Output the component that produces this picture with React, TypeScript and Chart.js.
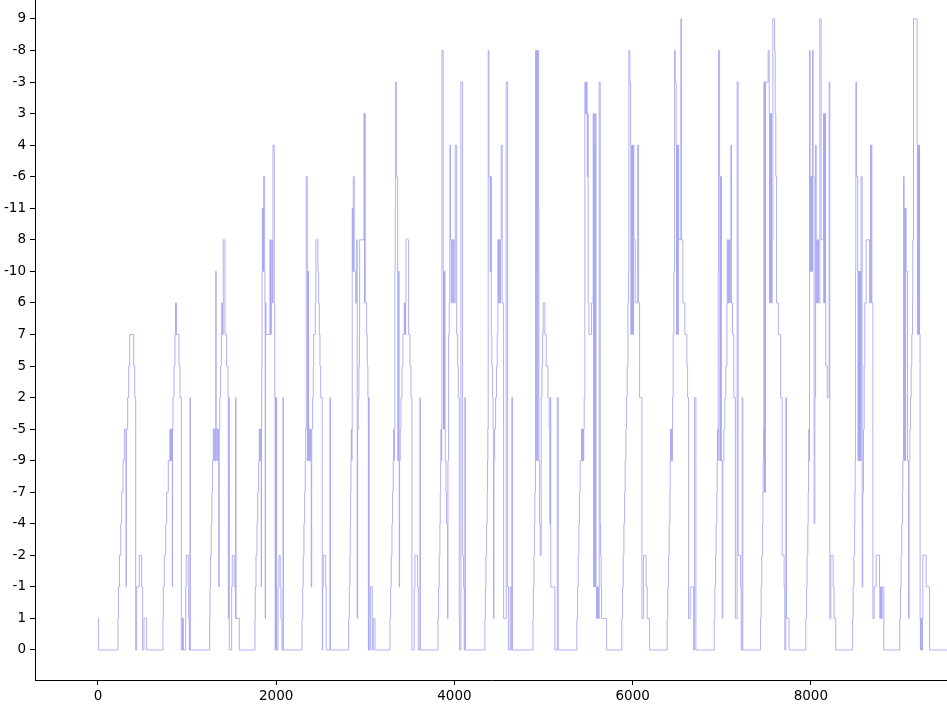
import React, { useEffect, useRef } from 'react';
import { Chart, registerables } from 'chart.js';

Chart.register(...registerables);

// Category order of the y axis (bottom to top, order of first appearance)
const yCategories = ['0', '1', '-1', '-2', '-4', '-7', '-9', '-5', '2', '5', '7', '6', '-10', '8', '-11', '-6', '4', '3', '-3', '-8', '9'];
const xTicks = [0, 2000, 4000, 6000, 8000];

// Step change points: [x where the new value starts, value]
const burst00: [number, number][] = [[0, 1], [6, 0]];
const burst01: [number, number][] = [[224, 1], [230, -1], [241, -2], [255, -4], [266, -7], [281, -9], [295, -5], [314, -1], [319, -5], [333, 2], [344, 5], [356, 7], [401, 5], [412, 2], [423, 0], [434, -1], [463, -2], [490, -1], [501, 0], [516, 1], [546, 0]];
const burst02: [number, number][] = [[729, 1], [733, -1], [744, -2], [760, -4], [771, -7], [789, -9], [808, -5], [811, -9], [814, -5], [817, -9], [820, -5], [823, -9], [827, -5], [834, -1], [837, -5], [841, 2], [853, 5], [864, 7], [872, 6], [874, 7], [876, 6], [879, 7], [909, 5], [920, 2], [935, 0], [946, 1], [950, 0], [953, 1], [957, 0], [984, -1], [990, -2], [1013, -1], [1018, 1], [1024, 0], [1032, 2], [1036, 0]];
const burst03: [number, number][] = [[1253, 1], [1257, -1], [1264, -2], [1271, -4], [1278, -7], [1286, -9], [1294, -5], [1300, -9], [1306, -5], [1312, -9], [1318, -5], [1322, -10], [1326, -5], [1332, -9], [1338, -5], [1344, -9], [1350, -5], [1356, -1], [1360, -5], [1366, 2], [1376, 5], [1384, 7], [1390, 6], [1393, 7], [1396, 6], [1400, 7], [1403, 6], [1406, 8], [1425, 7], [1444, 5], [1459, 2], [1463, 1], [1468, 2], [1473, 0], [1500, -1], [1507, -2], [1529, -1], [1542, 1], [1545, 2], [1549, 1], [1586, 0]];
const burst04: [number, number][] = [[1762, 1], [1765, -1], [1773, -2], [1784, -4], [1792, -7], [1803, -9], [1810, -5], [1815, -9], [1820, -5], [1825, -9], [1830, -5], [1832, -1], [1835, 2], [1838, 5], [1840, 7], [1842, -10], [1845, -11], [1848, -10], [1851, -11], [1854, -10], [1857, -11], [1859, -6], [1870, -10], [1873, 6], [1876, 1], [1880, 6], [1885, 7], [1930, 8], [1934, 7], [1937, 8], [1941, 7], [1944, 6], [1952, 8], [1958, 6], [1964, 4], [1978, 6], [1984, 2], [1988, 0], [1992, 2], [1996, 0], [2000, 2], [2005, 0], [2020, -1], [2031, -2], [2045, -1], [2053, 1], [2064, 0], [2076, 2], [2081, 0]];
const burst05: [number, number][] = [[2289, 1], [2297, -1], [2303, -2], [2311, -4], [2319, -7], [2326, -9], [2331, -5], [2337, -6], [2349, -10], [2352, -9], [2355, -10], [2358, -9], [2361, -10], [2364, -5], [2367, -9], [2373, -5], [2379, -9], [2385, -5], [2390, -9], [2393, -1], [2398, -5], [2409, 2], [2416, 5], [2420, 7], [2438, 6], [2446, 8], [2468, -10], [2476, 6], [2483, 7], [2491, 5], [2499, 2], [2517, 0], [2521, -1], [2528, -2], [2555, -1], [2561, 0], [2603, 2], [2609, 0]];
const burst06: [number, number][] = [[2813, 1], [2820, -1], [2827, -2], [2831, -4], [2835, -7], [2839, -9], [2843, -5], [2847, -9], [2851, -5], [2853, -11], [2856, -10], [2859, -11], [2862, -10], [2865, -6], [2876, -10], [2891, 6], [2903, 8], [2909, 1], [2914, -5], [2921, 2], [2928, 5], [2934, 7], [2936, 8], [2985, 3], [2990, 6], [2994, 3], [2998, 6], [3015, 7], [3022, 5], [3029, 2], [3034, 0], [3038, 2], [3043, 0], [3060, -1], [3078, 0], [3089, 1], [3108, 0]];
const burst07: [number, number][] = [[3276, 1], [3284, -1], [3291, -2], [3299, -4], [3306, -7], [3313, -9], [3318, -5], [3322, -9], [3326, -5], [3332, -10], [3336, -11], [3340, -3], [3347, -6], [3363, -10], [3366, -9], [3369, -10], [3372, -9], [3375, -10], [3378, -9], [3381, -1], [3385, -9], [3392, -5], [3400, 2], [3411, 5], [3422, 7], [3437, 6], [3441, 7], [3445, 6], [3449, 7], [3453, 6], [3456, 8], [3486, 7], [3501, 5], [3512, 2], [3523, 0], [3549, -1], [3557, -2], [3587, -1], [3594, 0], [3613, 2], [3618, 0]];
const burst08: [number, number][] = [[3815, 1], [3822, -1], [3829, -2], [3837, -4], [3841, -7], [3845, -9], [3849, -5], [3853, -9], [3857, -5], [3860, -8], [3874, -10], [3878, -5], [3882, -10], [3886, -5], [3890, -10], [3894, -5], [3897, -9], [3905, -7], [3912, -4], [3924, 1], [3927, -9], [3935, 7], [3942, 6], [3949, 4], [3957, 8], [3965, 6], [3972, 8], [3980, 6], [3988, 8], [3998, 6], [4009, 4], [4025, 7], [4036, 5], [4043, 2], [4054, 1], [4058, 0], [4073, -3], [4092, -2], [4101, -1], [4110, 0], [4118, 2], [4123, 0]];
const burst09: [number, number][] = [[4342, 1], [4348, -1], [4353, -2], [4361, -4], [4368, -7], [4372, -9], [4375, -5], [4379, -8], [4387, -6], [4402, -10], [4405, -6], [4408, -10], [4411, -6], [4413, 7], [4420, 5], [4428, 2], [4434, -5], [4440, 1], [4443, -9], [4451, -5], [4462, 2], [4473, 5], [4480, 7], [4488, 8], [4493, 6], [4498, 8], [4503, 6], [4508, 8], [4513, 6], [4518, 8], [4525, 4], [4536, 6], [4552, 1], [4581, -3], [4597, -1], [4606, 0], [4626, -1], [4637, 0], [4645, 2], [4651, 0]];
const burst10: [number, number][] = [[4881, 1], [4886, -1], [4892, -2], [4898, -4], [4903, -7], [4909, -9], [4911, -8], [4916, -9], [4920, -8], [4925, -10], [4929, -8], [4934, -9], [4938, -8], [4943, -11], [4948, -9], [4956, -4], [4963, -2], [4974, 2], [4982, 5], [4990, 7], [4996, 6], [5015, 7], [5030, 5], [5049, 2], [5064, -5], [5071, -4], [5077, 2], [5081, -1], [5127, 0], [5154, 2], [5165, 0]];
const burst11: [number, number][] = [[5374, 1], [5382, -1], [5389, -2], [5397, -4], [5404, -7], [5411, -9], [5427, -5], [5431, -9], [5435, -5], [5439, -9], [5443, -5], [5447, -9], [5451, -5], [5456, 2], [5464, -3], [5472, 3], [5476, -3], [5480, 3], [5484, -3], [5488, 3], [5492, -6], [5496, 3], [5501, 6], [5509, 7], [5539, 6], [5557, 3], [5562, -1], [5566, 3], [5570, -1], [5574, 4], [5579, -1], [5584, 3], [5589, -1], [5595, 1], [5600, -1], [5606, 1], [5612, -1], [5618, 1], [5625, -3], [5636, -4], [5640, -2], [5647, -1], [5651, 1], [5708, 0]];
const burst12: [number, number][] = [[5879, 1], [5887, -1], [5894, -2], [5902, -4], [5910, -7], [5916, -9], [5924, -5], [5932, 2], [5939, 5], [5947, 6], [5955, -10], [5958, -8], [5969, -3], [5977, 4], [5981, 7], [5985, 4], [5989, 7], [5993, 4], [5997, 7], [6001, 4], [6005, 7], [6009, 4], [6014, 8], [6029, 6], [6056, 4], [6067, 6], [6078, 2], [6104, 1], [6123, -2], [6152, -1], [6164, 1], [6190, 0]];
const burst13: [number, number][] = [[6388, 1], [6395, -1], [6403, -2], [6410, -4], [6418, -7], [6421, -9], [6426, -5], [6431, -9], [6436, -5], [6441, -9], [6448, 2], [6455, 7], [6463, -10], [6471, -8], [6478, -3], [6489, 4], [6493, 7], [6497, 4], [6501, 7], [6505, 4], [6509, 7], [6513, 4], [6516, 8], [6541, 9], [6549, 8], [6564, 6], [6586, 7], [6609, 5], [6617, 2], [6628, 1], [6646, -1], [6684, 0], [6695, 2], [6710, 0]];
const burst14: [number, number][] = [[6915, 1], [6923, -1], [6931, -2], [6937, -4], [6945, -7], [6949, -9], [6953, -5], [6957, -9], [6960, -10], [6964, -8], [6976, -6], [6980, -9], [6984, -6], [6988, -9], [6992, -6], [6996, -9], [7005, 1], [7013, -9], [7024, -5], [7035, 2], [7046, 5], [7058, 6], [7061, 8], [7067, 6], [7073, 8], [7079, 6], [7085, 8], [7091, 6], [7096, 8], [7102, 4], [7110, 6], [7121, 7], [7136, 2], [7153, 1], [7173, -3], [7184, -2], [7211, -1], [7218, 0], [7229, 2], [7237, 0]];
const burst15: [number, number][] = [[7435, 1], [7442, -1], [7450, -2], [7458, -4], [7462, -7], [7465, -9], [7469, -5], [7473, -3], [7481, -7], [7484, -3], [7487, -7], [7490, -3], [7521, -8], [7533, 3], [7536, 6], [7540, 3], [7544, 6], [7548, 3], [7552, 6], [7556, 3], [7560, 6], [7566, 8], [7574, 9], [7593, -8], [7600, 3], [7607, -6], [7615, 6], [7635, 7], [7660, 2], [7678, -2], [7700, -1], [7708, 0], [7719, 2], [7727, 1], [7756, 0]];
const burst16: [number, number][] = [[7944, 1], [7952, -1], [7958, -2], [7966, -4], [7970, -7], [7974, -9], [7978, -5], [7981, -9], [7985, -8], [7992, -10], [7996, -6], [8000, -10], [8004, -6], [8008, -10], [8012, -6], [8016, -10], [8019, -8], [8026, -6], [8037, -4], [8045, 2], [8053, 4], [8060, 8], [8065, 6], [8070, 8], [8075, 6], [8080, 8], [8086, 6], [8101, 9], [8116, 8], [8143, 3], [8146, 6], [8149, 3], [8152, 6], [8155, 3], [8158, 6], [8162, 3], [8165, 6], [8168, 5], [8185, 2], [8205, -3], [8213, 1], [8224, -2], [8250, -1], [8261, 1], [8280, 0]];
const burst17: [number, number][] = [[8468, 1], [8475, -1], [8483, -2], [8491, -4], [8494, -7], [8497, -9], [8502, -10], [8505, -3], [8513, -6], [8527, -10], [8530, -9], [8533, -10], [8536, -9], [8539, -10], [8542, -9], [8545, -10], [8548, -9], [8551, -10], [8554, -9], [8557, -10], [8560, -9], [8564, -6], [8576, -1], [8583, -7], [8591, -5], [8598, 5], [8606, 6], [8621, 8], [8659, 6], [8670, 4], [8674, 6], [8677, 4], [8685, 6], [8696, 1], [8711, -1], [8733, -2], [8771, -1], [8775, 1], [8779, -1], [8784, 1], [8789, -1], [8794, 1], [8800, -1], [8819, 0]];
const burst18: [number, number][] = [[8998, 1], [9006, -1], [9013, -2], [9021, -4], [9029, -7], [9032, -9], [9040, -6], [9047, -11], [9051, -9], [9055, -11], [9059, -9], [9063, -11], [9069, -10], [9085, -9], [9096, 1], [9103, -9], [9111, -5], [9118, 2], [9126, 5], [9133, 7], [9141, 6], [9144, 8], [9152, 9], [9193, 4], [9197, 7], [9201, 4], [9205, 7], [9209, 4], [9213, 7], [9217, 4], [9220, 7], [9226, 1], [9230, 0], [9234, 1], [9238, 0], [9242, 1], [9246, 0], [9253, 1], [9257, -2], [9294, -1], [9332, 0], [9600, 0]];

const bursts = [burst00, burst01, burst02, burst03, burst04, burst05, burst06, burst07, burst08, burst09, burst10, burst11, burst12, burst13, burst14, burst15, burst16, burst17, burst18];

const X_MIN = -707;
const X_MAX = 9528;
const Y_MIN = -0.951;
const Y_MAX = 20.6;

export default function App() {
  const ref = useRef<HTMLCanvasElement>(null);

  useEffect(() => {
    document.body.style.margin = '0';
    const points = bursts.flat().map(([x, v]) => ({ x, y: yCategories.indexOf(String(v)) }));
    const font = { family: 'DejaVu Sans', size: 13.5 };
    const chart = new Chart(ref.current as HTMLCanvasElement, {
      type: 'line',
      data: {
        datasets: [
          {
            data: points,
            stepped: true,
            borderColor: 'rgb(168,168,242)',
            borderWidth: 0.9,
            pointRadius: 0,
            fill: false,
            tension: 0,
          },
        ],
      },
      options: {
        animation: false,
        responsive: false,
        maintainAspectRatio: false,
        events: [],
        layout: { padding: 0 },
        plugins: { legend: { display: false }, tooltip: { enabled: false } },
        scales: {
          x: {
            type: 'linear',
            min: X_MIN,
            max: X_MAX,
            afterBuildTicks: (s: any) => {
              s.ticks = xTicks.map((v) => ({ value: v }));
            },
            afterFit: (s: any) => {
              s.height = 38;
              s.paddingLeft = 0;
              s.paddingRight = 0;
            },
            grid: { drawOnChartArea: false, drawTicks: true, tickLength: 5, color: '#000', lineWidth: 1 },
            border: { display: true, color: '#000', width: 1 },
            ticks: {
              color: '#000',
              font,
              padding: 3,
              maxRotation: 0,
              autoSkip: false,
              callback: (value: any) => String(value),
            },
          },
          y: {
            type: 'linear',
            min: Y_MIN,
            max: Y_MAX,
            afterBuildTicks: (s: any) => {
              s.ticks = yCategories.map((_, i) => ({ value: i }));
            },
            afterFit: (s: any) => {
              s.width = 35;
              s.paddingTop = 0;
              s.paddingBottom = 0;
            },
            grid: { drawOnChartArea: false, drawTicks: true, tickLength: 5, color: '#000', lineWidth: 1 },
            border: { display: true, color: '#000', width: 1 },
            ticks: {
              color: '#000',
              font,
              padding: 4,
              autoSkip: false,
              callback: (value: any) => yCategories[Number(value)] ?? '',
            },
          },
        },
      },
    });
    return () => chart.destroy();
  }, []);

  return (
    <div style={{ width: 947, height: 718 }}>
      <canvas ref={ref} width={947} height={718} style={{ display: 'block' }} />
    </div>
  );
}
